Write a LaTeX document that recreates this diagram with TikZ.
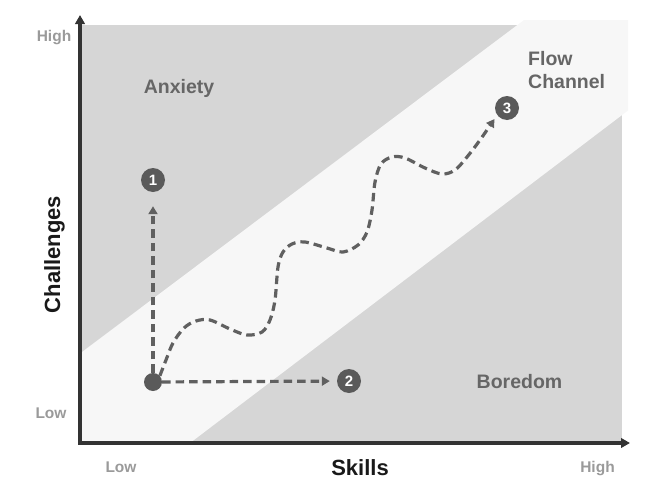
\documentclass[tikz,border=0pt]{standalone}
\usepackage{fontspec}
\setmainfont{Liberation Sans}
\usetikzlibrary{arrows.meta}
\definecolor{zonegray}{HTML}{D6D6D6}
\definecolor{bandwhite}{HTML}{F7F7F7}
\definecolor{zonetext}{HTML}{666666}
\definecolor{ticktext}{HTML}{9A9A9A}
\definecolor{axisdark}{HTML}{333333}
\definecolor{markdark}{HTML}{5A5A5A}
\definecolor{dashdark}{HTML}{606060}
\tikzset{
  axisline/.style={draw=axisdark, line width=3.4pt, -{Triangle[length=9pt,width=9.5pt]}},
  zonelabel/.style={text=zonetext, font=\fontsize{19.5}{22}\selectfont\bfseries, inner sep=0pt, anchor=base},
  ticklabel/.style={text=ticktext, font=\fontsize{15.5}{18}\selectfont\bfseries, inner sep=0pt, anchor=base},
  axislabel/.style={text=black!90, font=\fontsize{22}{24}\selectfont\bfseries, inner sep=0pt, anchor=base},
  marker/.style={circle, fill=markdark, minimum size=24pt, inner sep=0pt, text=white, font=\fontsize{15}{17}\selectfont\bfseries},
  startdot/.style={circle, fill=markdark, minimum size=18pt, inner sep=0pt},
  flowarrow/.style={draw=dashdark, line width=3.2pt, dash pattern=on 8.5pt off 5pt, -{Triangle[length=8pt,width=9pt]}},
}
\begin{document}
\begin{tikzpicture}[x=1pt,y=-1pt]
\useasboundingbox (0,0) rectangle (657,493);
% regions
\fill[zonegray] (82,25) rectangle (622,443);
\fill[bandwhite] (82,352) -- (524,20) -- (628,20) -- (628,110.5) -- (190,443) -- (82,443) -- cycle;
% axes
\coordinate (origin) at (80,443);
\coordinate (ytip) at (80,15);
\coordinate (xtip) at (630,443);
\draw[axisline] ([yshift=1.7pt]origin) -- (ytip);
\draw[axisline] ([xshift=-1.7pt]origin) -- (xtip);
% labels
\node[ticklabel] (yhigh) at (54,41.7) {High};
\node[ticklabel] (ylow) at (51,418) {Low};
\node[ticklabel] (xlow) at (121,472) {Low};
\node[ticklabel] (xhigh) at (597.5,472) {High};
\node[axislabel] (skills) at (360,475.5) {Skills};
\node[axislabel, rotate=90] (challenges) at (60,254.5) {Challenges};
\node[zonelabel] (anxiety) at (179,93.5) {Anxiety};
\node[zonelabel, anchor=base west] (flow1) at (528,65) {Flow};
\node[zonelabel, anchor=base west] (flow2) at (528,88) {Channel};
\node[zonelabel] (boredom) at (519.5,388) {Boredom};
% markers
\node[startdot] (dot) at (153,382) {};
\node[marker] (m1) at (153,180) {1};
\node[marker] (m2) at (349,381) {2};
\node[marker] (m3) at (507,108) {3};
\coordinate (t3) at (494.5,119);
% arrows
\draw[flowarrow, shorten >=14pt] (dot) -- (m1);
\draw[flowarrow, shorten >=7pt] (dot) -- (m2);
\draw[flowarrow] plot[smooth, tension=0.55] coordinates {
  (dot.42) (166,360) (173,343) (184,328) (196,321) (210,320) (230,329) (247,335)
  (262,332) (270,320) (275,300) (278,267) (283,252) (292,244) (305,242) (327,248)
  (343,252) (358,245) (367,232) (372,210) (375,182) (381,164) (392,157) (405,158)
  (425,168) (442,174) (455,170) (467,157) (480,140) (t3)};
\end{tikzpicture}
\end{document}
